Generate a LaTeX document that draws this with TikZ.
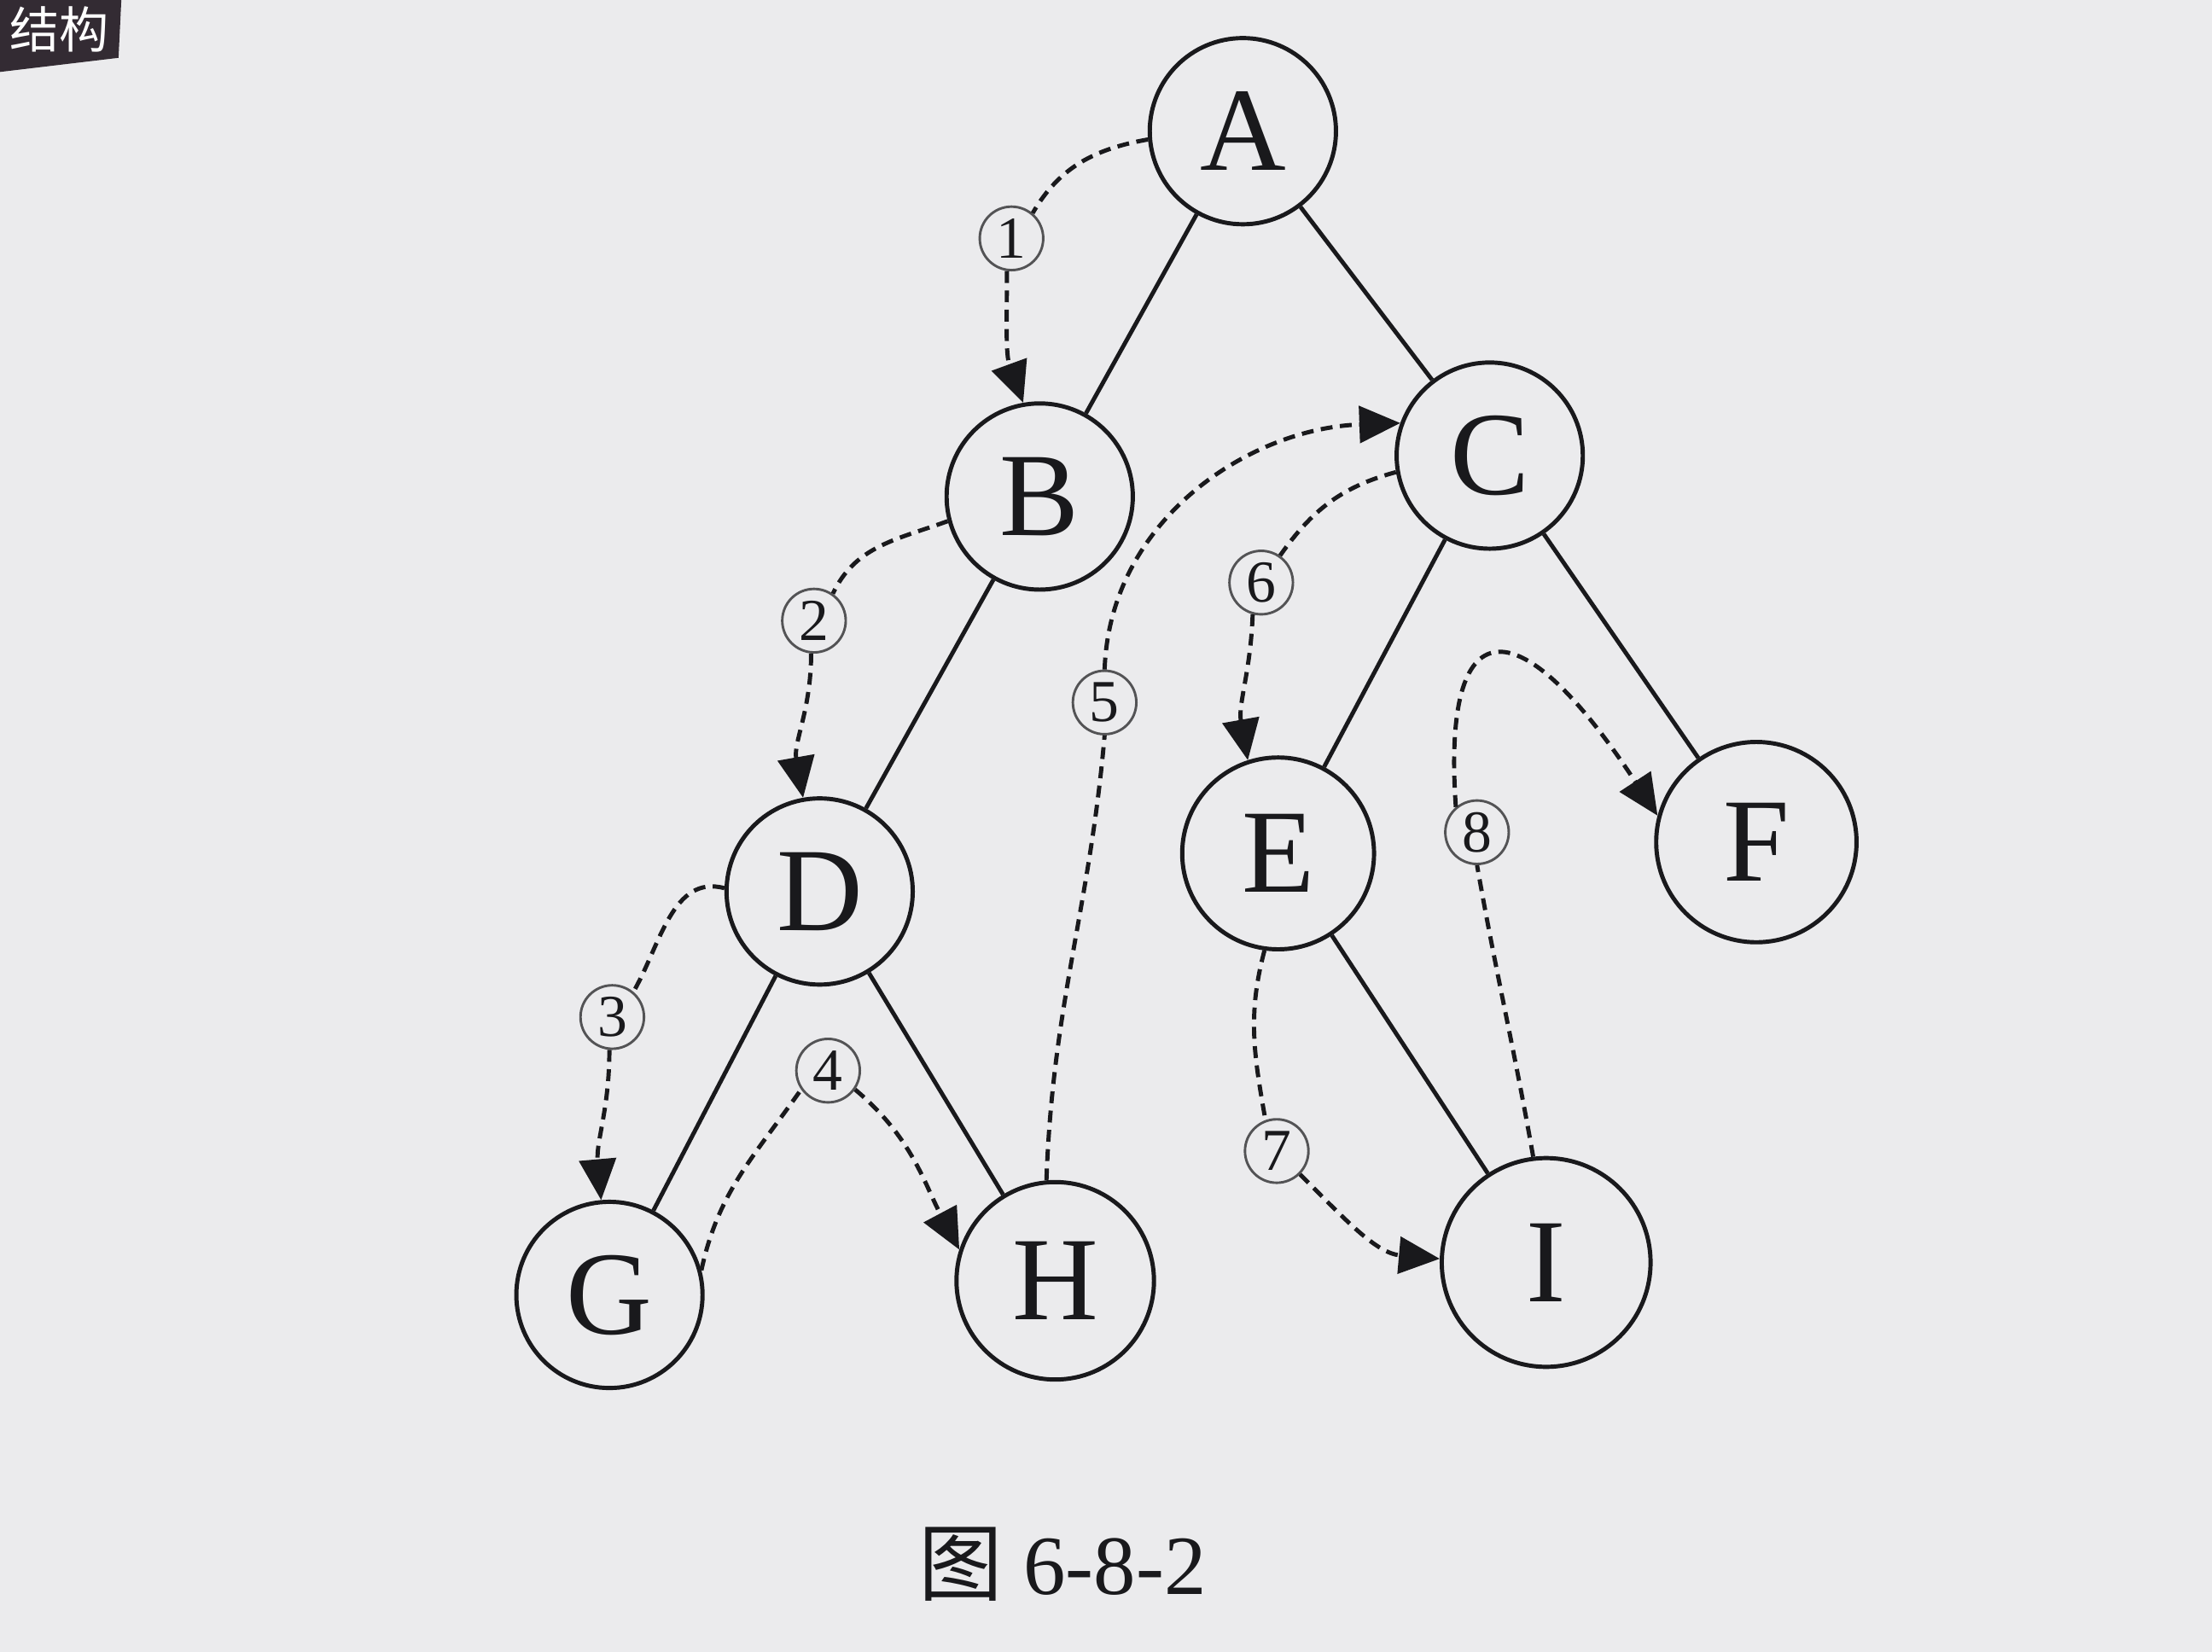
\documentclass[tikz,border=0pt]{standalone}
\usepackage{fontspec}
\setmainfont{Liberation Serif}
\newfontfamily\cjk{Noto Sans CJK SC}
\usetikzlibrary{arrows.meta}

\begin{document}
\begin{tikzpicture}[font=\fontsize{24}{28}\selectfont]

	%\draw[help lines,step=5mm,gray!20] (0,0) grid (15.68,11.71);

	\definecolor{PaperGray}{rgb}{0.92,0.92,0.93}
	\definecolor{InkBlack}{rgb}{0.1,0.1,0.11}
	\definecolor{CornerDark}{rgb}{0.2,0.17,0.2}

	\tikzset{
		treeNode/.style={
			draw=InkBlack,
			line width=0.85pt,
			circle,
			minimum size=1.32cm,
			inner sep=0pt,
			text=InkBlack,
		},
		treeEdge/.style={
			draw=InkBlack, line width=0.85pt,
		},
		visitNum/.style={
			draw=InkBlack!75, line width=0.5pt, circle,
			minimum size=0.45cm,
			inner sep=0pt,
			text=InkBlack,
			font=\fontsize{12}{14}\selectfont,
		},
		visitPath/.style={
			draw=InkBlack, line width=0.85pt,
			dash pattern=on 2.4pt off 1.5pt,
		},
		visitArrow/.style={
			visitPath,
			-{Triangle[length=2.9mm,width=2.6mm]},
		},
	}

	% Paper
	\fill[PaperGray] (0,0) rectangle (15.68,11.71);
	\useasboundingbox (0,0) rectangle (15.68,11.71);

	% Corner of the page behind
	\fill[CornerDark] (0,11.71) -- (0.86,11.71) -- (0.84,11.30) -- (0,11.20) -- cycle;
	\node[text=white!75,font=\cjk\fontsize{10}{12}\selectfont] (corner) at (0.42,11.50) {结构};

	% Tree
	\node[treeNode] (A) at (8.81,10.78) {A};
	\node[treeNode] (B) at (7.37,8.19) {B};
	\node[treeNode] (C) at (10.56,8.48) {C};
	\node[treeNode] (D) at (5.81,5.39) {D};
	\node[treeNode,minimum size=1.36cm] (E) at (9.06,5.66) {E};
	\node[treeNode,minimum size=1.42cm] (F) at (12.45,5.74) {F};
	\node[treeNode] (G) at (4.32,2.53) {G};
	\node[treeNode,minimum size=1.4cm] (H) at (7.48,2.63) {H};
	\node[treeNode,minimum size=1.48cm] (I) at (10.96,2.76) {I};

	\draw[treeEdge] (A) -- (B);
	\draw[treeEdge] (A) -- (C);
	\draw[treeEdge] (B) -- (D);
	\draw[treeEdge] (C) -- (E);
	\draw[treeEdge] (C) -- (F);
	\draw[treeEdge] (D) -- (G);
	\draw[treeEdge] (D) -- (H);
	\draw[treeEdge] (E) -- (I);

	% Step numbers
	\node[visitNum] (n1) at (7.17,10.02) {1};
	\node[visitNum] (n2) at (5.77,7.31) {2};
	\node[visitNum] (n3) at (4.34,4.50) {3};
	\node[visitNum] (n4) at (5.87,4.12) {4};
	\node[visitNum] (n5) at (7.83,6.73) {5};
	\node[visitNum] (n6) at (8.94,7.58) {6};
	\node[visitNum] (n7) at (9.05,3.55) {7};
	\node[visitNum] (n8) at (10.47,5.81) {8};

	% Visiting order
	\draw[visitPath] (A.185) to[out=190,in=60] (n1.50);
	\draw[visitArrow] (n1.262) to[out=-90,in=110] (B.100);

	\draw[visitPath] (B.195) to[out=200,in=65] (n2.55);
	\draw[visitArrow] (n2.265) to[out=-90,in=100] (D.100);

	\draw[visitPath] (D.178) to[out=165,in=60] (n3.50);
	\draw[visitArrow] (n3.265) to[out=-90,in=95] (G.95);

	\draw[visitPath] (G.15) to[out=78,in=-125] (n4.215);
	\draw[visitArrow] (n4.325) to[out=-40,in=118] (H.162);

	\draw[visitPath] (H.95) to[out=88,in=-95] (n5.south);
	\draw[visitArrow] (n5.north) to[out=88,in=182] (C.160);

	\draw[visitPath] (C.190) to[out=195,in=55] (n6.55);
	\draw[visitArrow] (n6.255) to[out=-92,in=100] (E.108);

	\draw[visitPath] (E.262) to[out=-105,in=100] (n7.110);
	\draw[visitArrow] (n7.315) to[out=-45,in=175] (I.178);

	\draw[visitPath] (I.97) to[out=100,in=-80] (n8.south);
	\draw[visitArrow] (n8.130) .. controls (10.22,7.4) and (10.75,7.45) .. (F.165);

	% Caption
	\node[font=\fontsize{17}{20}\selectfont,text=InkBlack] (caption) at (7.53,0.62) {{\cjk 图} 6-8-2};

\end{tikzpicture}
\end{document}
